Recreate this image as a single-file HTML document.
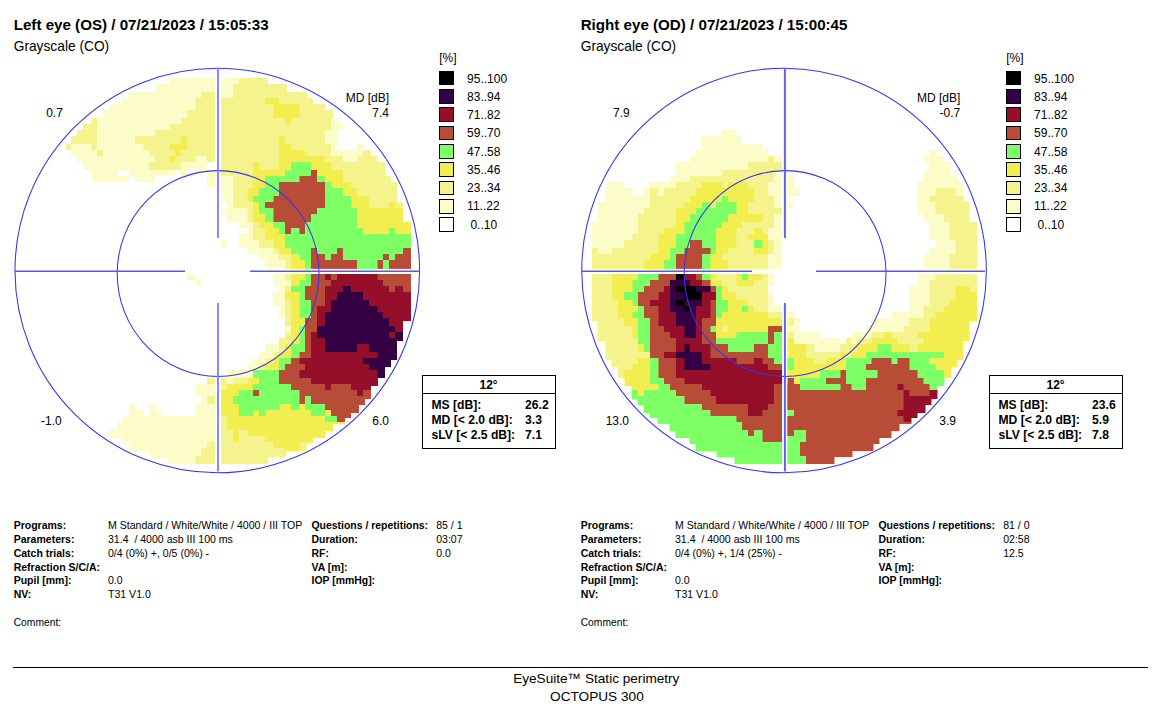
<!DOCTYPE html>
<html lang="en"><head><meta charset="utf-8"><title>EyeSuite Static perimetry</title>
<style>html,body{margin:0;padding:0;background:#fff}body{width:1162px;height:708px;overflow:hidden}svg{display:block}</style></head>
<body>
<svg width="1162" height="708" viewBox="0 0 1162 708" font-family="'Liberation Sans', Arial, sans-serif" fill="#000">
<rect width="1162" height="708" fill="#fff"/>
<clipPath id="m0"><path d="M268 78 L268 84 L287 84 L287 92 L307 92 L307 98 L313 98 L313 104 L325 104 L325 110 L333 110 L333 118 L345 118 L345 124 L351 124 L351 130 L359 130 L359 136 L365 136 L365 144 L371 144 L371 150 L371 150 L371 156 L378 156 L378 162 L385 162 L385 170 L385 170 L385 176 L391 176 L391 182 L397 182 L397 188 L397 188 L397 196 L397 196 L397 202 L403 202 L403 208 L403 208 L403 214 L403 214 L403 222 L411 222 L411 228 L411 228 L411 234 L411 234 L411 240 L411 240 L411 248 L411 248 L411 254 L411 254 L411 260 L411 260 L411 266 L411 266 L411 271 L411 271 L411 321 L403 321 L403 341 L397 341 L397 360 L391 360 L391 367 L385 367 L385 378 L378 378 L378 386 L371 386 L371 399 L365 399 L365 405 L359 405 L359 413 L351 413 L351 418 L345 418 L345 424 L333 424 L333 431 L325 431 L325 438 L313 438 L313 444 L307 444 L307 451 L286 451 L286 457 L268 457 L268 464 L168 464 L168 457 L150 457 L150 451 L129 451 L129 444 L123 444 L123 438 L109 438 L109 431 L103 431 L103 424 L91 424 L91 418 L83 418 L83 413 L77 413 L77 405 L71 405 L71 399 L65 399 L65 386 L58 386 L58 378 L51 378 L51 367 L45 367 L45 360 L39 360 L39 341 L31 341 L31 321 L25 321 L25 271 L25 271 L25 266 L25 266 L25 260 L25 260 L25 254 L25 254 L25 248 L25 248 L25 240 L25 240 L25 234 L25 234 L25 228 L25 228 L25 222 L31 222 L31 214 L31 214 L31 208 L31 208 L31 202 L39 202 L39 196 L39 196 L39 188 L39 188 L39 182 L45 182 L45 176 L51 176 L51 170 L51 170 L51 162 L58 162 L58 156 L65 156 L65 150 L65 150 L65 144 L71 144 L71 136 L77 136 L77 130 L83 130 L83 124 L91 124 L91 118 L103 118 L103 110 L109 110 L109 104 L123 104 L123 98 L129 98 L129 92 L149 92 L149 84 L168 84 L168 78Z"/></clipPath>
<g clip-path="url(#m0)">
<rect x="169.5" y="78" width="70.5" height="6" fill="#fcfcc8"/>
<rect x="239" y="78" width="34.5" height="6" fill="#f5f48c"/>
<rect x="155" y="84" width="79" height="8" fill="#fcfcc8"/>
<rect x="233" y="84" width="58" height="8" fill="#f5f48c"/>
<rect x="129" y="92" width="73" height="6" fill="#fcfcc8"/>
<rect x="201" y="92" width="18" height="6" fill="#f5f48c"/>
<rect x="221" y="92" width="13" height="6" fill="#fcfcc8"/>
<rect x="233" y="92" width="78" height="6" fill="#f5f48c"/>
<rect x="123" y="98" width="73.5" height="6" fill="#fcfcc8"/>
<rect x="195.5" y="98" width="70.5" height="6" fill="#f5f48c"/>
<rect x="265" y="98" width="15" height="6" fill="#f2ee50"/>
<rect x="279" y="98" width="38" height="6" fill="#f5f48c"/>
<rect x="109" y="104" width="87.5" height="6" fill="#fcfcc8"/>
<rect x="195.5" y="104" width="79" height="6" fill="#f5f48c"/>
<rect x="273.5" y="104" width="27" height="6" fill="#f2ee50"/>
<rect x="299.5" y="104" width="25.5" height="6" fill="#f5f48c"/>
<rect x="103" y="110" width="85" height="8" fill="#fcfcc8"/>
<rect x="187" y="110" width="87.5" height="8" fill="#f5f48c"/>
<rect x="273.5" y="110" width="27" height="8" fill="#f2ee50"/>
<rect x="299.5" y="110" width="37.5" height="8" fill="#f5f48c"/>
<rect x="91.5" y="118" width="6.5" height="6" fill="#f5f48c"/>
<rect x="97" y="118" width="85" height="6" fill="#fcfcc8"/>
<rect x="181" y="118" width="105" height="6" fill="#f5f48c"/>
<rect x="285" y="118" width="7" height="6" fill="#f2ee50"/>
<rect x="291" y="118" width="41" height="6" fill="#f5f48c"/>
<rect x="331" y="118" width="6" height="6" fill="#fcfcc8"/>
<rect x="83" y="124" width="15" height="6" fill="#f5f48c"/>
<rect x="97" y="124" width="73.5" height="6" fill="#fcfcc8"/>
<rect x="169.5" y="124" width="162.5" height="6" fill="#f5f48c"/>
<rect x="331" y="124" width="12" height="6" fill="#fcfcc8"/>
<rect x="77" y="130" width="21" height="6" fill="#f5f48c"/>
<rect x="97" y="130" width="59" height="6" fill="#fcfcc8"/>
<rect x="155" y="130" width="171" height="6" fill="#f5f48c"/>
<rect x="325" y="130" width="12" height="6" fill="#fcfcc8"/>
<rect x="71" y="136" width="27" height="8" fill="#f5f48c"/>
<rect x="97" y="136" width="39" height="8" fill="#fcfcc8"/>
<rect x="135" y="136" width="47" height="8" fill="#f5f48c"/>
<rect x="181" y="136" width="7" height="8" fill="#f2ee50"/>
<rect x="187" y="136" width="93" height="8" fill="#f5f48c"/>
<rect x="279" y="136" width="7" height="8" fill="#f2ee50"/>
<rect x="285" y="136" width="41" height="8" fill="#f5f48c"/>
<rect x="325" y="136" width="12" height="8" fill="#fcfcc8"/>
<rect x="65.5" y="144" width="6.5" height="6" fill="#f5f48c"/>
<rect x="71" y="144" width="21.5" height="6" fill="#fcfcc8"/>
<rect x="91.5" y="144" width="6.5" height="6" fill="#f5f48c"/>
<rect x="97" y="144" width="47.5" height="6" fill="#fcfcc8"/>
<rect x="143.5" y="144" width="27" height="6" fill="#f5f48c"/>
<rect x="169.5" y="144" width="18.5" height="6" fill="#f2ee50"/>
<rect x="187" y="144" width="93" height="6" fill="#f5f48c"/>
<rect x="279" y="144" width="13" height="6" fill="#f2ee50"/>
<rect x="291" y="144" width="41" height="6" fill="#f5f48c"/>
<rect x="331" y="144" width="6" height="6" fill="#fcfcc8"/>
<rect x="357" y="144" width="6" height="6" fill="#fcfcc8"/>
<rect x="71" y="150" width="27" height="6" fill="#fcfcc8"/>
<rect x="97" y="150" width="7" height="6" fill="#f5f48c"/>
<rect x="103" y="150" width="47" height="6" fill="#fcfcc8"/>
<rect x="149" y="150" width="27" height="6" fill="#f5f48c"/>
<rect x="175" y="150" width="7" height="6" fill="#f2ee50"/>
<rect x="181" y="150" width="99" height="6" fill="#f5f48c"/>
<rect x="279" y="150" width="27" height="6" fill="#f2ee50"/>
<rect x="305" y="150" width="27" height="6" fill="#f5f48c"/>
<rect x="331" y="150" width="33" height="6" fill="#fcfcc8"/>
<rect x="363" y="150" width="14.5" height="6" fill="#f5f48c"/>
<rect x="77" y="156" width="79" height="6" fill="#fcfcc8"/>
<rect x="155" y="156" width="15.5" height="6" fill="#f5f48c"/>
<rect x="169.5" y="156" width="6.5" height="6" fill="#f2ee50"/>
<rect x="175" y="156" width="21.5" height="6" fill="#f5f48c"/>
<rect x="195.5" y="156" width="12.5" height="6" fill="#fcfcc8"/>
<rect x="207" y="156" width="73" height="6" fill="#f5f48c"/>
<rect x="279" y="156" width="47" height="6" fill="#f2ee50"/>
<rect x="325" y="156" width="19" height="6" fill="#f5f48c"/>
<rect x="343" y="156" width="15" height="6" fill="#fcfcc8"/>
<rect x="357" y="156" width="20.5" height="6" fill="#f5f48c"/>
<rect x="83" y="162" width="67" height="8" fill="#fcfcc8"/>
<rect x="149" y="162" width="33" height="8" fill="#f5f48c"/>
<rect x="181" y="162" width="26" height="8" fill="#fcfcc8"/>
<rect x="221" y="162" width="33" height="8" fill="#f5f48c"/>
<rect x="253" y="162" width="7" height="8" fill="#f2ee50"/>
<rect x="259" y="162" width="21" height="8" fill="#f5f48c"/>
<rect x="279" y="162" width="13" height="8" fill="#f2ee50"/>
<rect x="291" y="162" width="21" height="8" fill="#7dff66"/>
<rect x="311" y="162" width="21" height="8" fill="#f2ee50"/>
<rect x="331" y="162" width="58" height="8" fill="#f5f48c"/>
<rect x="91.5" y="170" width="26" height="6" fill="#fcfcc8"/>
<rect x="129" y="170" width="46" height="6" fill="#fcfcc8"/>
<rect x="181" y="170" width="6" height="6" fill="#fcfcc8"/>
<rect x="207" y="170" width="12" height="6" fill="#fcfcc8"/>
<rect x="221" y="170" width="33" height="6" fill="#f5f48c"/>
<rect x="253" y="170" width="33" height="6" fill="#f2ee50"/>
<rect x="285" y="170" width="27" height="6" fill="#7dff66"/>
<rect x="311" y="170" width="7" height="6" fill="#b84d37"/>
<rect x="317" y="170" width="27" height="6" fill="#f2ee50"/>
<rect x="343" y="170" width="46" height="6" fill="#f5f48c"/>
<rect x="91.5" y="176" width="37.5" height="6" fill="#fcfcc8"/>
<rect x="135" y="176" width="20" height="6" fill="#fcfcc8"/>
<rect x="207" y="176" width="27" height="6" fill="#fcfcc8"/>
<rect x="233" y="176" width="21" height="6" fill="#f5f48c"/>
<rect x="253" y="176" width="13" height="6" fill="#f2ee50"/>
<rect x="265" y="176" width="35.5" height="6" fill="#7dff66"/>
<rect x="299.5" y="176" width="18.5" height="6" fill="#b84d37"/>
<rect x="317" y="176" width="9" height="6" fill="#7dff66"/>
<rect x="325" y="176" width="19" height="6" fill="#f2ee50"/>
<rect x="343" y="176" width="52" height="6" fill="#f5f48c"/>
<rect x="207" y="182" width="27" height="6" fill="#fcfcc8"/>
<rect x="233" y="182" width="21" height="6" fill="#f5f48c"/>
<rect x="253" y="182" width="13" height="6" fill="#f2ee50"/>
<rect x="265" y="182" width="15" height="6" fill="#7dff66"/>
<rect x="279" y="182" width="47" height="6" fill="#b84d37"/>
<rect x="325" y="182" width="7" height="6" fill="#7dff66"/>
<rect x="331" y="182" width="21" height="6" fill="#f2ee50"/>
<rect x="351" y="182" width="52" height="6" fill="#f5f48c"/>
<rect x="221" y="188" width="13" height="8" fill="#fcfcc8"/>
<rect x="233" y="188" width="15.5" height="8" fill="#f5f48c"/>
<rect x="247.5" y="188" width="12.5" height="8" fill="#f2ee50"/>
<rect x="259" y="188" width="21" height="8" fill="#7dff66"/>
<rect x="279" y="188" width="47" height="8" fill="#b84d37"/>
<rect x="325" y="188" width="19" height="8" fill="#7dff66"/>
<rect x="343" y="188" width="15" height="8" fill="#f2ee50"/>
<rect x="357" y="188" width="46" height="8" fill="#f5f48c"/>
<rect x="221" y="196" width="13" height="6" fill="#fcfcc8"/>
<rect x="233" y="196" width="15.5" height="6" fill="#f5f48c"/>
<rect x="247.5" y="196" width="6.5" height="6" fill="#f2ee50"/>
<rect x="253" y="196" width="21.5" height="6" fill="#7dff66"/>
<rect x="273.5" y="196" width="52.5" height="6" fill="#b84d37"/>
<rect x="325" y="196" width="27" height="6" fill="#7dff66"/>
<rect x="351" y="196" width="19" height="6" fill="#f2ee50"/>
<rect x="369" y="196" width="34" height="6" fill="#f5f48c"/>
<rect x="227" y="202" width="7" height="6" fill="#fcfcc8"/>
<rect x="233" y="202" width="21" height="6" fill="#f5f48c"/>
<rect x="253" y="202" width="7" height="6" fill="#f2ee50"/>
<rect x="259" y="202" width="7" height="6" fill="#7dff66"/>
<rect x="265" y="202" width="61" height="6" fill="#b84d37"/>
<rect x="325" y="202" width="27" height="6" fill="#7dff66"/>
<rect x="351" y="202" width="19" height="6" fill="#f2ee50"/>
<rect x="369" y="202" width="21" height="6" fill="#f5f48c"/>
<rect x="389" y="202" width="7" height="6" fill="#f2ee50"/>
<rect x="395" y="202" width="8" height="6" fill="#f5f48c"/>
<rect x="221" y="208" width="27.5" height="6" fill="#fcfcc8"/>
<rect x="247.5" y="208" width="6.5" height="6" fill="#f5f48c"/>
<rect x="253" y="208" width="7" height="6" fill="#f2ee50"/>
<rect x="259" y="208" width="15.5" height="6" fill="#7dff66"/>
<rect x="273.5" y="208" width="44.5" height="6" fill="#b84d37"/>
<rect x="317" y="208" width="41" height="6" fill="#7dff66"/>
<rect x="357" y="208" width="46" height="6" fill="#f2ee50"/>
<rect x="227" y="214" width="21.5" height="8" fill="#fcfcc8"/>
<rect x="247.5" y="214" width="6.5" height="8" fill="#f5f48c"/>
<rect x="253" y="214" width="13" height="8" fill="#f2ee50"/>
<rect x="265" y="214" width="9.5" height="8" fill="#7dff66"/>
<rect x="273.5" y="214" width="38.5" height="8" fill="#b84d37"/>
<rect x="311" y="214" width="47" height="8" fill="#7dff66"/>
<rect x="357" y="214" width="46" height="8" fill="#f2ee50"/>
<rect x="239" y="222" width="15" height="6" fill="#fcfcc8"/>
<rect x="253" y="222" width="7" height="6" fill="#f5f48c"/>
<rect x="259" y="222" width="15.5" height="6" fill="#f2ee50"/>
<rect x="273.5" y="222" width="12.5" height="6" fill="#7dff66"/>
<rect x="285" y="222" width="21" height="6" fill="#b84d37"/>
<rect x="305" y="222" width="53" height="6" fill="#7dff66"/>
<rect x="357" y="222" width="54" height="6" fill="#f2ee50"/>
<rect x="247.5" y="228" width="6.5" height="6" fill="#fcfcc8"/>
<rect x="253" y="228" width="13" height="6" fill="#f5f48c"/>
<rect x="265" y="228" width="15" height="6" fill="#f2ee50"/>
<rect x="279" y="228" width="7" height="6" fill="#7dff66"/>
<rect x="285" y="228" width="7" height="6" fill="#b84d37"/>
<rect x="291" y="228" width="9.5" height="6" fill="#7dff66"/>
<rect x="299.5" y="228" width="6.5" height="6" fill="#b84d37"/>
<rect x="305" y="228" width="59" height="6" fill="#7dff66"/>
<rect x="363" y="228" width="27" height="6" fill="#f2ee50"/>
<rect x="389" y="228" width="7" height="6" fill="#7dff66"/>
<rect x="395" y="228" width="16" height="6" fill="#f2ee50"/>
<rect x="239" y="234" width="15" height="6" fill="#fcfcc8"/>
<rect x="253" y="234" width="13" height="6" fill="#f5f48c"/>
<rect x="265" y="234" width="21" height="6" fill="#f2ee50"/>
<rect x="285" y="234" width="126" height="6" fill="#7dff66"/>
<rect x="221" y="240" width="6" height="8" fill="#fcfcc8"/>
<rect x="239" y="240" width="21" height="8" fill="#fcfcc8"/>
<rect x="259" y="240" width="15.5" height="8" fill="#f5f48c"/>
<rect x="273.5" y="240" width="12.5" height="8" fill="#f2ee50"/>
<rect x="285" y="240" width="126" height="8" fill="#7dff66"/>
<rect x="247.5" y="248" width="27" height="6" fill="#fcfcc8"/>
<rect x="273.5" y="248" width="6.5" height="6" fill="#f5f48c"/>
<rect x="279" y="248" width="13" height="6" fill="#f2ee50"/>
<rect x="291" y="248" width="21" height="6" fill="#7dff66"/>
<rect x="311" y="248" width="7" height="6" fill="#b84d37"/>
<rect x="317" y="248" width="21" height="6" fill="#7dff66"/>
<rect x="337" y="248" width="7" height="6" fill="#b84d37"/>
<rect x="343" y="248" width="61" height="6" fill="#7dff66"/>
<rect x="403" y="248" width="8" height="6" fill="#b84d37"/>
<rect x="259" y="254" width="21" height="6" fill="#fcfcc8"/>
<rect x="279" y="254" width="13" height="6" fill="#f5f48c"/>
<rect x="291" y="254" width="9.5" height="6" fill="#f2ee50"/>
<rect x="299.5" y="254" width="12.5" height="6" fill="#7dff66"/>
<rect x="311" y="254" width="15" height="6" fill="#b84d37"/>
<rect x="325" y="254" width="7" height="6" fill="#7dff66"/>
<rect x="331" y="254" width="13" height="6" fill="#b84d37"/>
<rect x="343" y="254" width="41" height="6" fill="#7dff66"/>
<rect x="383" y="254" width="7" height="6" fill="#b84d37"/>
<rect x="389" y="254" width="7" height="6" fill="#7dff66"/>
<rect x="395" y="254" width="16" height="6" fill="#b84d37"/>
<rect x="265" y="260" width="21" height="6" fill="#fcfcc8"/>
<rect x="285" y="260" width="7" height="6" fill="#f5f48c"/>
<rect x="291" y="260" width="15" height="6" fill="#f2ee50"/>
<rect x="305" y="260" width="7" height="6" fill="#7dff66"/>
<rect x="311" y="260" width="47" height="6" fill="#b84d37"/>
<rect x="357" y="260" width="21.5" height="6" fill="#7dff66"/>
<rect x="377.5" y="260" width="6.5" height="6" fill="#b84d37"/>
<rect x="383" y="260" width="7" height="6" fill="#7dff66"/>
<rect x="389" y="260" width="22" height="6" fill="#b84d37"/>
<rect x="265" y="266" width="21" height="8" fill="#fcfcc8"/>
<rect x="285" y="266" width="7" height="8" fill="#f5f48c"/>
<rect x="291" y="266" width="15" height="8" fill="#f2ee50"/>
<rect x="305" y="266" width="7" height="8" fill="#7dff66"/>
<rect x="311" y="266" width="47" height="8" fill="#b84d37"/>
<rect x="357" y="266" width="21.5" height="8" fill="#7dff66"/>
<rect x="377.5" y="266" width="6.5" height="8" fill="#b84d37"/>
<rect x="383" y="266" width="7" height="8" fill="#7dff66"/>
<rect x="389" y="266" width="22" height="8" fill="#b84d37"/>
<rect x="187" y="274" width="8.5" height="6" fill="#fcfcc8"/>
<rect x="273.5" y="274" width="12.5" height="6" fill="#fcfcc8"/>
<rect x="285" y="274" width="7" height="6" fill="#f5f48c"/>
<rect x="291" y="274" width="15" height="6" fill="#f2ee50"/>
<rect x="305" y="274" width="7" height="6" fill="#7dff66"/>
<rect x="311" y="274" width="15" height="6" fill="#b84d37"/>
<rect x="325" y="274" width="7" height="6" fill="#960f2a"/>
<rect x="331" y="274" width="7" height="6" fill="#b84d37"/>
<rect x="337" y="274" width="41.5" height="6" fill="#960f2a"/>
<rect x="377.5" y="274" width="33.5" height="6" fill="#b84d37"/>
<rect x="195.5" y="280" width="5.5" height="6" fill="#fcfcc8"/>
<rect x="273.5" y="280" width="18.5" height="6" fill="#fcfcc8"/>
<rect x="291" y="280" width="9.5" height="6" fill="#f2ee50"/>
<rect x="299.5" y="280" width="12.5" height="6" fill="#7dff66"/>
<rect x="311" y="280" width="21" height="6" fill="#b84d37"/>
<rect x="331" y="280" width="53" height="6" fill="#960f2a"/>
<rect x="383" y="280" width="28" height="6" fill="#b84d37"/>
<rect x="279" y="286" width="7" height="6" fill="#fcfcc8"/>
<rect x="285" y="286" width="7" height="6" fill="#f5f48c"/>
<rect x="291" y="286" width="15" height="6" fill="#7dff66"/>
<rect x="305" y="286" width="21" height="6" fill="#b84d37"/>
<rect x="325" y="286" width="19" height="6" fill="#960f2a"/>
<rect x="343" y="286" width="9" height="6" fill="#330044"/>
<rect x="351" y="286" width="39" height="6" fill="#960f2a"/>
<rect x="389" y="286" width="7" height="6" fill="#b84d37"/>
<rect x="395" y="286" width="9" height="6" fill="#960f2a"/>
<rect x="403" y="286" width="8" height="6" fill="#b84d37"/>
<rect x="273.5" y="292" width="12.5" height="8" fill="#fcfcc8"/>
<rect x="285" y="292" width="15.5" height="8" fill="#f2ee50"/>
<rect x="299.5" y="292" width="6.5" height="8" fill="#7dff66"/>
<rect x="305" y="292" width="21" height="8" fill="#b84d37"/>
<rect x="325" y="292" width="13" height="8" fill="#960f2a"/>
<rect x="337" y="292" width="27" height="8" fill="#330044"/>
<rect x="363" y="292" width="48" height="8" fill="#960f2a"/>
<rect x="273.5" y="300" width="12.5" height="6" fill="#fcfcc8"/>
<rect x="285" y="300" width="7" height="6" fill="#f5f48c"/>
<rect x="291" y="300" width="9.5" height="6" fill="#f2ee50"/>
<rect x="299.5" y="300" width="12.5" height="6" fill="#7dff66"/>
<rect x="311" y="300" width="15" height="6" fill="#b84d37"/>
<rect x="325" y="300" width="7" height="6" fill="#960f2a"/>
<rect x="331" y="300" width="39" height="6" fill="#330044"/>
<rect x="369" y="300" width="42" height="6" fill="#960f2a"/>
<rect x="279" y="306" width="7" height="6" fill="#fcfcc8"/>
<rect x="285" y="306" width="7" height="6" fill="#f5f48c"/>
<rect x="291" y="306" width="9.5" height="6" fill="#f2ee50"/>
<rect x="299.5" y="306" width="12.5" height="6" fill="#7dff66"/>
<rect x="311" y="306" width="7" height="6" fill="#b84d37"/>
<rect x="317" y="306" width="15" height="6" fill="#960f2a"/>
<rect x="331" y="306" width="47.5" height="6" fill="#330044"/>
<rect x="377.5" y="306" width="33.5" height="6" fill="#960f2a"/>
<rect x="279" y="312" width="7" height="6" fill="#fcfcc8"/>
<rect x="285" y="312" width="7" height="6" fill="#f5f48c"/>
<rect x="291" y="312" width="9.5" height="6" fill="#f2ee50"/>
<rect x="299.5" y="312" width="12.5" height="6" fill="#7dff66"/>
<rect x="311" y="312" width="7" height="6" fill="#b84d37"/>
<rect x="317" y="312" width="9" height="6" fill="#960f2a"/>
<rect x="325" y="312" width="59" height="6" fill="#330044"/>
<rect x="383" y="312" width="28" height="6" fill="#960f2a"/>
<rect x="285" y="318" width="7" height="8" fill="#f5f48c"/>
<rect x="291" y="318" width="15" height="8" fill="#f2ee50"/>
<rect x="305" y="318" width="13" height="8" fill="#b84d37"/>
<rect x="317" y="318" width="9" height="8" fill="#960f2a"/>
<rect x="325" y="318" width="65" height="8" fill="#330044"/>
<rect x="389" y="318" width="22" height="8" fill="#960f2a"/>
<rect x="285" y="326" width="7" height="6" fill="#fcfcc8"/>
<rect x="291" y="326" width="9.5" height="6" fill="#f2ee50"/>
<rect x="299.5" y="326" width="6.5" height="6" fill="#7dff66"/>
<rect x="305" y="326" width="13" height="6" fill="#b84d37"/>
<rect x="317" y="326" width="79" height="6" fill="#330044"/>
<rect x="395" y="326" width="16" height="6" fill="#960f2a"/>
<rect x="285" y="332" width="7" height="6" fill="#f5f48c"/>
<rect x="291" y="332" width="9.5" height="6" fill="#f2ee50"/>
<rect x="299.5" y="332" width="6.5" height="6" fill="#7dff66"/>
<rect x="305" y="332" width="7" height="6" fill="#b84d37"/>
<rect x="311" y="332" width="7" height="6" fill="#960f2a"/>
<rect x="317" y="332" width="73" height="6" fill="#330044"/>
<rect x="389" y="332" width="7" height="6" fill="#960f2a"/>
<rect x="395" y="332" width="16" height="6" fill="#330044"/>
<rect x="279" y="338" width="13" height="6" fill="#f5f48c"/>
<rect x="291" y="338" width="9.5" height="6" fill="#f2ee50"/>
<rect x="299.5" y="338" width="6.5" height="6" fill="#7dff66"/>
<rect x="305" y="338" width="7" height="6" fill="#b84d37"/>
<rect x="311" y="338" width="15" height="6" fill="#960f2a"/>
<rect x="325" y="338" width="86" height="6" fill="#330044"/>
<rect x="265" y="344" width="15" height="8" fill="#fcfcc8"/>
<rect x="279" y="344" width="7" height="8" fill="#f5f48c"/>
<rect x="285" y="344" width="7" height="8" fill="#f2ee50"/>
<rect x="291" y="344" width="15" height="8" fill="#7dff66"/>
<rect x="305" y="344" width="7" height="8" fill="#b84d37"/>
<rect x="311" y="344" width="15" height="8" fill="#960f2a"/>
<rect x="325" y="344" width="33" height="8" fill="#330044"/>
<rect x="357" y="344" width="13" height="8" fill="#960f2a"/>
<rect x="369" y="344" width="42" height="8" fill="#330044"/>
<rect x="259" y="352" width="15.5" height="6" fill="#fcfcc8"/>
<rect x="273.5" y="352" width="6.5" height="6" fill="#f5f48c"/>
<rect x="279" y="352" width="13" height="6" fill="#f2ee50"/>
<rect x="291" y="352" width="9.5" height="6" fill="#7dff66"/>
<rect x="299.5" y="352" width="12.5" height="6" fill="#b84d37"/>
<rect x="311" y="352" width="67.5" height="6" fill="#960f2a"/>
<rect x="377.5" y="352" width="33.5" height="6" fill="#330044"/>
<rect x="253" y="358" width="13" height="6" fill="#fcfcc8"/>
<rect x="265" y="358" width="9.5" height="6" fill="#f5f48c"/>
<rect x="273.5" y="358" width="6.5" height="6" fill="#f2ee50"/>
<rect x="279" y="358" width="13" height="6" fill="#7dff66"/>
<rect x="291" y="358" width="9.5" height="6" fill="#b84d37"/>
<rect x="299.5" y="358" width="64.5" height="6" fill="#960f2a"/>
<rect x="363" y="358" width="48" height="6" fill="#330044"/>
<rect x="247.5" y="364" width="12.5" height="6" fill="#fcfcc8"/>
<rect x="259" y="364" width="7" height="6" fill="#f5f48c"/>
<rect x="265" y="364" width="15" height="6" fill="#f2ee50"/>
<rect x="279" y="364" width="7" height="6" fill="#7dff66"/>
<rect x="285" y="364" width="21" height="6" fill="#b84d37"/>
<rect x="305" y="364" width="65" height="6" fill="#960f2a"/>
<rect x="369" y="364" width="42" height="6" fill="#330044"/>
<rect x="227" y="370" width="27" height="8" fill="#fcfcc8"/>
<rect x="253" y="370" width="27" height="8" fill="#7dff66"/>
<rect x="279" y="370" width="21.5" height="8" fill="#b84d37"/>
<rect x="299.5" y="370" width="79" height="8" fill="#960f2a"/>
<rect x="377.5" y="370" width="33.5" height="8" fill="#330044"/>
<rect x="207" y="378" width="21" height="6" fill="#f5f48c"/>
<rect x="227" y="378" width="7" height="6" fill="#fcfcc8"/>
<rect x="233" y="378" width="15.5" height="6" fill="#f5f48c"/>
<rect x="247.5" y="378" width="12.5" height="6" fill="#f2ee50"/>
<rect x="259" y="378" width="21" height="6" fill="#7dff66"/>
<rect x="279" y="378" width="33" height="6" fill="#b84d37"/>
<rect x="311" y="378" width="100" height="6" fill="#960f2a"/>
<rect x="195.5" y="384" width="23.5" height="6" fill="#fcfcc8"/>
<rect x="221" y="384" width="7" height="6" fill="#f5f48c"/>
<rect x="227" y="384" width="27" height="6" fill="#f2ee50"/>
<rect x="253" y="384" width="39" height="6" fill="#7dff66"/>
<rect x="291" y="384" width="35" height="6" fill="#b84d37"/>
<rect x="325" y="384" width="7" height="6" fill="#960f2a"/>
<rect x="331" y="384" width="21" height="6" fill="#b84d37"/>
<rect x="351" y="384" width="60" height="6" fill="#960f2a"/>
<rect x="195.5" y="390" width="23.5" height="6" fill="#fcfcc8"/>
<rect x="221" y="390" width="19" height="6" fill="#f2ee50"/>
<rect x="239" y="390" width="15" height="6" fill="#7dff66"/>
<rect x="253" y="390" width="7" height="6" fill="#b84d37"/>
<rect x="259" y="390" width="41.5" height="6" fill="#7dff66"/>
<rect x="299.5" y="390" width="58.5" height="6" fill="#b84d37"/>
<rect x="357" y="390" width="7" height="6" fill="#960f2a"/>
<rect x="363" y="390" width="48" height="6" fill="#b84d37"/>
<rect x="201" y="396" width="7" height="8" fill="#fcfcc8"/>
<rect x="207" y="396" width="12" height="8" fill="#f5f48c"/>
<rect x="221" y="396" width="13" height="8" fill="#f2ee50"/>
<rect x="233" y="396" width="67.5" height="8" fill="#7dff66"/>
<rect x="299.5" y="396" width="6.5" height="8" fill="#b84d37"/>
<rect x="305" y="396" width="7" height="8" fill="#7dff66"/>
<rect x="311" y="396" width="92" height="8" fill="#b84d37"/>
<rect x="129" y="404" width="6" height="6" fill="#fcfcc8"/>
<rect x="149" y="404" width="6" height="6" fill="#fcfcc8"/>
<rect x="195.5" y="404" width="23.5" height="6" fill="#fcfcc8"/>
<rect x="221" y="404" width="19" height="6" fill="#f2ee50"/>
<rect x="239" y="404" width="41" height="6" fill="#7dff66"/>
<rect x="279" y="404" width="13" height="6" fill="#f2ee50"/>
<rect x="291" y="404" width="9.5" height="6" fill="#7dff66"/>
<rect x="299.5" y="404" width="6.5" height="6" fill="#f2ee50"/>
<rect x="305" y="404" width="21" height="6" fill="#7dff66"/>
<rect x="325" y="404" width="86" height="6" fill="#b84d37"/>
<rect x="129" y="410" width="14.5" height="6" fill="#fcfcc8"/>
<rect x="149" y="410" width="12" height="6" fill="#fcfcc8"/>
<rect x="195.5" y="410" width="23.5" height="6" fill="#fcfcc8"/>
<rect x="221" y="410" width="19" height="6" fill="#f2ee50"/>
<rect x="239" y="410" width="15" height="6" fill="#7dff66"/>
<rect x="253" y="410" width="7" height="6" fill="#f2ee50"/>
<rect x="259" y="410" width="7" height="6" fill="#7dff66"/>
<rect x="265" y="410" width="47" height="6" fill="#f2ee50"/>
<rect x="311" y="410" width="15" height="6" fill="#7dff66"/>
<rect x="325" y="410" width="7" height="6" fill="#f2ee50"/>
<rect x="331" y="410" width="80" height="6" fill="#b84d37"/>
<rect x="123" y="416" width="96" height="6" fill="#fcfcc8"/>
<rect x="221" y="416" width="7" height="6" fill="#f5f48c"/>
<rect x="227" y="416" width="99" height="6" fill="#f2ee50"/>
<rect x="325" y="416" width="13" height="6" fill="#7dff66"/>
<rect x="337" y="416" width="66" height="6" fill="#b84d37"/>
<rect x="117.5" y="422" width="101.5" height="8" fill="#fcfcc8"/>
<rect x="221" y="422" width="7" height="8" fill="#f5f48c"/>
<rect x="227" y="422" width="150.5" height="8" fill="#f2ee50"/>
<rect x="109" y="430" width="110" height="6" fill="#fcfcc8"/>
<rect x="221" y="430" width="13" height="6" fill="#f5f48c"/>
<rect x="233" y="430" width="7" height="6" fill="#f2ee50"/>
<rect x="239" y="430" width="9.5" height="6" fill="#f5f48c"/>
<rect x="247.5" y="430" width="109.5" height="6" fill="#f2ee50"/>
<rect x="109" y="436" width="110" height="6" fill="#fcfcc8"/>
<rect x="221" y="436" width="13" height="6" fill="#f5f48c"/>
<rect x="233" y="436" width="7" height="6" fill="#f2ee50"/>
<rect x="239" y="436" width="27" height="6" fill="#f5f48c"/>
<rect x="265" y="436" width="78" height="6" fill="#f2ee50"/>
<rect x="109" y="442" width="99" height="6" fill="#fcfcc8"/>
<rect x="207" y="442" width="67.5" height="6" fill="#f5f48c"/>
<rect x="273.5" y="442" width="27" height="6" fill="#f2ee50"/>
<rect x="299.5" y="442" width="25.5" height="6" fill="#f5f48c"/>
<rect x="109" y="448" width="93" height="8" fill="#fcfcc8"/>
<rect x="201" y="448" width="85" height="8" fill="#f5f48c"/>
<rect x="285" y="448" width="15.5" height="8" fill="#f2ee50"/>
<rect x="299.5" y="448" width="25.5" height="8" fill="#f5f48c"/>
<rect x="109" y="456" width="87.5" height="8" fill="#fcfcc8"/>
<rect x="195.5" y="456" width="115.5" height="8" fill="#f5f48c"/>
</g>
<rect x="25" y="268.9" width="386" height="5.1" fill="#fff"/>
<rect x="215" y="78" width="6" height="386" fill="#fff"/>
<circle cx="217.3" cy="270.5" r="202.3" fill="none" stroke="#3535f0" stroke-width="1.05"/>
<ellipse cx="218.1" cy="273.5" rx="100.9" ry="102.9" fill="none" stroke="#3535f0" stroke-width="1.05"/>
<g stroke="#8888ff" stroke-width="2">
<line x1="218" y1="68.5" x2="218" y2="238"/>
<line x1="218" y1="303" x2="218" y2="471.5"/>
</g>
<g stroke="#5555ff" stroke-width="1.5">
<line x1="15" y1="271.3" x2="185" y2="271.3"/>
<line x1="250" y1="271.3" x2="419.6" y2="271.3"/>
</g>
<clipPath id="m567"><path d="M834.5 78 L834.5 84 L853.5 84 L853.5 92 L873.5 92 L873.5 98 L879.5 98 L879.5 104 L891.5 104 L891.5 110 L899.5 110 L899.5 118 L911.5 118 L911.5 124 L917.5 124 L917.5 130 L925.5 130 L925.5 136 L931.5 136 L931.5 144 L937.5 144 L937.5 150 L937.5 150 L937.5 156 L944.5 156 L944.5 162 L951.5 162 L951.5 170 L951.5 170 L951.5 176 L957.5 176 L957.5 182 L963.5 182 L963.5 188 L963.5 188 L963.5 196 L963.5 196 L963.5 202 L969.5 202 L969.5 208 L969.5 208 L969.5 214 L969.5 214 L969.5 222 L977.5 222 L977.5 228 L977.5 228 L977.5 234 L977.5 234 L977.5 240 L977.5 240 L977.5 248 L977.5 248 L977.5 254 L977.5 254 L977.5 260 L977.5 260 L977.5 266 L977.5 266 L977.5 271 L977.5 271 L977.5 321 L969.5 321 L969.5 341 L963.5 341 L963.5 360 L957.5 360 L957.5 367 L951.5 367 L951.5 378 L944.5 378 L944.5 386 L937.5 386 L937.5 399 L931.5 399 L931.5 405 L925.5 405 L925.5 413 L917.5 413 L917.5 418 L911.5 418 L911.5 424 L899.5 424 L899.5 431 L891.5 431 L891.5 438 L879.5 438 L879.5 444 L873.5 444 L873.5 451 L852.5 451 L852.5 457 L834.5 457 L834.5 464 L734.5 464 L734.5 457 L716.5 457 L716.5 451 L695.5 451 L695.5 444 L689.5 444 L689.5 438 L675.5 438 L675.5 431 L669.5 431 L669.5 424 L657.5 424 L657.5 418 L649.5 418 L649.5 413 L643.5 413 L643.5 405 L637.5 405 L637.5 399 L631.5 399 L631.5 386 L624.5 386 L624.5 378 L617.5 378 L617.5 367 L611.5 367 L611.5 360 L605.5 360 L605.5 341 L597.5 341 L597.5 321 L591.5 321 L591.5 271 L591.5 271 L591.5 266 L591.5 266 L591.5 260 L591.5 260 L591.5 254 L591.5 254 L591.5 248 L591.5 248 L591.5 240 L591.5 240 L591.5 234 L591.5 234 L591.5 228 L591.5 228 L591.5 222 L597.5 222 L597.5 214 L597.5 214 L597.5 208 L597.5 208 L597.5 202 L605.5 202 L605.5 196 L605.5 196 L605.5 188 L605.5 188 L605.5 182 L611.5 182 L611.5 176 L617.5 176 L617.5 170 L617.5 170 L617.5 162 L624.5 162 L624.5 156 L631.5 156 L631.5 150 L631.5 150 L631.5 144 L637.5 144 L637.5 136 L643.5 136 L643.5 130 L649.5 130 L649.5 124 L657.5 124 L657.5 118 L669.5 118 L669.5 110 L675.5 110 L675.5 104 L689.5 104 L689.5 98 L695.5 98 L695.5 92 L715.5 92 L715.5 84 L734.5 84 L734.5 78Z"/></clipPath>
<g clip-path="url(#m567)">
<rect x="722" y="130" width="14.5" height="6" fill="#fcfcc8"/>
<rect x="702" y="136" width="40" height="8" fill="#fcfcc8"/>
<rect x="702" y="144" width="60.5" height="6" fill="#fcfcc8"/>
<rect x="696" y="150" width="72" height="6" fill="#fcfcc8"/>
<rect x="929.5" y="150" width="14.5" height="6" fill="#fcfcc8"/>
<rect x="690" y="156" width="79" height="6" fill="#fcfcc8"/>
<rect x="768" y="156" width="7" height="6" fill="#f5f48c"/>
<rect x="774" y="156" width="12" height="6" fill="#fcfcc8"/>
<rect x="923.5" y="156" width="20.5" height="6" fill="#fcfcc8"/>
<rect x="676" y="162" width="73" height="8" fill="#fcfcc8"/>
<rect x="748" y="162" width="38" height="8" fill="#f5f48c"/>
<rect x="929.5" y="162" width="26" height="8" fill="#fcfcc8"/>
<rect x="676" y="170" width="47" height="6" fill="#fcfcc8"/>
<rect x="722" y="170" width="53" height="6" fill="#f5f48c"/>
<rect x="774" y="170" width="12" height="6" fill="#fcfcc8"/>
<rect x="923.5" y="170" width="32" height="6" fill="#fcfcc8"/>
<rect x="670" y="176" width="21" height="6" fill="#fcfcc8"/>
<rect x="690" y="176" width="85" height="6" fill="#f5f48c"/>
<rect x="774" y="176" width="20" height="6" fill="#fcfcc8"/>
<rect x="923.5" y="176" width="38" height="6" fill="#fcfcc8"/>
<rect x="606" y="182" width="18" height="6" fill="#fcfcc8"/>
<rect x="650" y="182" width="27" height="6" fill="#fcfcc8"/>
<rect x="676" y="182" width="27" height="6" fill="#f5f48c"/>
<rect x="702" y="182" width="21" height="6" fill="#f2ee50"/>
<rect x="722" y="182" width="7" height="6" fill="#f5f48c"/>
<rect x="728" y="182" width="21" height="6" fill="#f2ee50"/>
<rect x="748" y="182" width="21" height="6" fill="#f5f48c"/>
<rect x="768" y="182" width="26" height="6" fill="#fcfcc8"/>
<rect x="917.5" y="182" width="52" height="6" fill="#fcfcc8"/>
<rect x="606" y="188" width="26.5" height="8" fill="#fcfcc8"/>
<rect x="644" y="188" width="7" height="8" fill="#fcfcc8"/>
<rect x="650" y="188" width="9.5" height="8" fill="#f5f48c"/>
<rect x="658.5" y="188" width="6.5" height="8" fill="#fcfcc8"/>
<rect x="664" y="188" width="33" height="8" fill="#f5f48c"/>
<rect x="696" y="188" width="59" height="8" fill="#f2ee50"/>
<rect x="754" y="188" width="15" height="8" fill="#f5f48c"/>
<rect x="768" y="188" width="32" height="8" fill="#fcfcc8"/>
<rect x="917.5" y="188" width="19" height="8" fill="#fcfcc8"/>
<rect x="935.5" y="188" width="21" height="8" fill="#f5f48c"/>
<rect x="955.5" y="188" width="14" height="8" fill="#fcfcc8"/>
<rect x="606" y="196" width="45" height="6" fill="#fcfcc8"/>
<rect x="650" y="196" width="41" height="6" fill="#f5f48c"/>
<rect x="690" y="196" width="33" height="6" fill="#f2ee50"/>
<rect x="722" y="196" width="7" height="6" fill="#7dff66"/>
<rect x="728" y="196" width="27" height="6" fill="#f2ee50"/>
<rect x="754" y="196" width="21" height="6" fill="#f5f48c"/>
<rect x="774" y="196" width="12" height="6" fill="#fcfcc8"/>
<rect x="917.5" y="196" width="13" height="6" fill="#fcfcc8"/>
<rect x="929.5" y="196" width="40" height="6" fill="#f5f48c"/>
<rect x="598" y="202" width="53" height="6" fill="#fcfcc8"/>
<rect x="650" y="202" width="35.5" height="6" fill="#f5f48c"/>
<rect x="684.5" y="202" width="18.5" height="6" fill="#f2ee50"/>
<rect x="702" y="202" width="9.5" height="6" fill="#7dff66"/>
<rect x="710.5" y="202" width="6.5" height="6" fill="#f2ee50"/>
<rect x="716" y="202" width="21.5" height="6" fill="#7dff66"/>
<rect x="736.5" y="202" width="12.5" height="6" fill="#f2ee50"/>
<rect x="748" y="202" width="27" height="6" fill="#f5f48c"/>
<rect x="774" y="202" width="20" height="6" fill="#fcfcc8"/>
<rect x="917.5" y="202" width="19" height="6" fill="#fcfcc8"/>
<rect x="935.5" y="202" width="34" height="6" fill="#f5f48c"/>
<rect x="598" y="208" width="47" height="6" fill="#fcfcc8"/>
<rect x="644" y="208" width="33" height="6" fill="#f5f48c"/>
<rect x="676" y="208" width="21" height="6" fill="#f2ee50"/>
<rect x="696" y="208" width="41.5" height="6" fill="#7dff66"/>
<rect x="736.5" y="208" width="12.5" height="6" fill="#f2ee50"/>
<rect x="748" y="208" width="38" height="6" fill="#f5f48c"/>
<rect x="917.5" y="208" width="19" height="6" fill="#fcfcc8"/>
<rect x="935.5" y="208" width="34" height="6" fill="#f5f48c"/>
<rect x="598" y="214" width="41" height="8" fill="#fcfcc8"/>
<rect x="638" y="214" width="39" height="8" fill="#f5f48c"/>
<rect x="676" y="214" width="15" height="8" fill="#f2ee50"/>
<rect x="690" y="214" width="39" height="8" fill="#7dff66"/>
<rect x="728" y="214" width="35.5" height="8" fill="#f2ee50"/>
<rect x="762.5" y="214" width="12.5" height="8" fill="#f5f48c"/>
<rect x="774" y="214" width="12" height="8" fill="#fcfcc8"/>
<rect x="923.5" y="214" width="21.5" height="8" fill="#fcfcc8"/>
<rect x="944" y="214" width="25.5" height="8" fill="#f5f48c"/>
<rect x="592" y="222" width="47" height="6" fill="#fcfcc8"/>
<rect x="638" y="222" width="39" height="6" fill="#f5f48c"/>
<rect x="676" y="222" width="9.5" height="6" fill="#f2ee50"/>
<rect x="684.5" y="222" width="38.5" height="6" fill="#7dff66"/>
<rect x="722" y="222" width="21" height="6" fill="#f2ee50"/>
<rect x="742" y="222" width="33" height="6" fill="#f5f48c"/>
<rect x="774" y="222" width="12" height="6" fill="#fcfcc8"/>
<rect x="929.5" y="222" width="21" height="6" fill="#fcfcc8"/>
<rect x="949.5" y="222" width="28" height="6" fill="#f5f48c"/>
<rect x="592" y="228" width="47" height="6" fill="#fcfcc8"/>
<rect x="638" y="228" width="27" height="6" fill="#f5f48c"/>
<rect x="664" y="228" width="21.5" height="6" fill="#f2ee50"/>
<rect x="684.5" y="228" width="32.5" height="6" fill="#7dff66"/>
<rect x="716" y="228" width="21.5" height="6" fill="#f2ee50"/>
<rect x="736.5" y="228" width="18.5" height="6" fill="#f5f48c"/>
<rect x="754" y="228" width="9.5" height="6" fill="#f2ee50"/>
<rect x="762.5" y="228" width="6.5" height="6" fill="#f5f48c"/>
<rect x="768" y="228" width="18" height="6" fill="#fcfcc8"/>
<rect x="929.5" y="228" width="21" height="6" fill="#fcfcc8"/>
<rect x="949.5" y="228" width="28" height="6" fill="#f5f48c"/>
<rect x="592" y="234" width="41.5" height="6" fill="#fcfcc8"/>
<rect x="632.5" y="234" width="27" height="6" fill="#f5f48c"/>
<rect x="658.5" y="234" width="18.5" height="6" fill="#f2ee50"/>
<rect x="676" y="234" width="41" height="6" fill="#7dff66"/>
<rect x="716" y="234" width="21.5" height="6" fill="#f2ee50"/>
<rect x="736.5" y="234" width="12.5" height="6" fill="#f5f48c"/>
<rect x="748" y="234" width="21" height="6" fill="#f2ee50"/>
<rect x="768" y="234" width="18" height="6" fill="#fcfcc8"/>
<rect x="929.5" y="234" width="21" height="6" fill="#fcfcc8"/>
<rect x="949.5" y="234" width="28" height="6" fill="#f5f48c"/>
<rect x="592" y="240" width="33" height="8" fill="#fcfcc8"/>
<rect x="624" y="240" width="35.5" height="8" fill="#f5f48c"/>
<rect x="658.5" y="240" width="18.5" height="8" fill="#f2ee50"/>
<rect x="676" y="240" width="15" height="8" fill="#7dff66"/>
<rect x="690" y="240" width="13" height="8" fill="#b84d37"/>
<rect x="702" y="240" width="15" height="8" fill="#7dff66"/>
<rect x="716" y="240" width="21.5" height="8" fill="#f2ee50"/>
<rect x="736.5" y="240" width="18.5" height="8" fill="#f5f48c"/>
<rect x="754" y="240" width="9.5" height="8" fill="#7dff66"/>
<rect x="762.5" y="240" width="6.5" height="8" fill="#f2ee50"/>
<rect x="768" y="240" width="7" height="8" fill="#f5f48c"/>
<rect x="774" y="240" width="12" height="8" fill="#fcfcc8"/>
<rect x="935.5" y="240" width="21" height="8" fill="#fcfcc8"/>
<rect x="955.5" y="240" width="22" height="8" fill="#f5f48c"/>
<rect x="592" y="248" width="7" height="6" fill="#f5f48c"/>
<rect x="598" y="248" width="15" height="6" fill="#fcfcc8"/>
<rect x="612" y="248" width="47.5" height="6" fill="#f5f48c"/>
<rect x="658.5" y="248" width="12.5" height="6" fill="#f2ee50"/>
<rect x="670" y="248" width="15.5" height="6" fill="#7dff66"/>
<rect x="684.5" y="248" width="27" height="6" fill="#b84d37"/>
<rect x="710.5" y="248" width="6.5" height="6" fill="#7dff66"/>
<rect x="716" y="248" width="13" height="6" fill="#f2ee50"/>
<rect x="728" y="248" width="27" height="6" fill="#f5f48c"/>
<rect x="754" y="248" width="15" height="6" fill="#f2ee50"/>
<rect x="768" y="248" width="7" height="6" fill="#f5f48c"/>
<rect x="774" y="248" width="12" height="6" fill="#fcfcc8"/>
<rect x="929.5" y="248" width="27" height="6" fill="#fcfcc8"/>
<rect x="955.5" y="248" width="22" height="6" fill="#f5f48c"/>
<rect x="592" y="254" width="59" height="6" fill="#f5f48c"/>
<rect x="650" y="254" width="21" height="6" fill="#f2ee50"/>
<rect x="670" y="254" width="7" height="6" fill="#7dff66"/>
<rect x="676" y="254" width="27" height="6" fill="#b84d37"/>
<rect x="702" y="254" width="9.5" height="6" fill="#7dff66"/>
<rect x="710.5" y="254" width="12.5" height="6" fill="#f2ee50"/>
<rect x="722" y="254" width="47" height="6" fill="#f5f48c"/>
<rect x="768" y="254" width="18" height="6" fill="#fcfcc8"/>
<rect x="923.5" y="254" width="27" height="6" fill="#fcfcc8"/>
<rect x="949.5" y="254" width="28" height="6" fill="#f5f48c"/>
<rect x="592" y="260" width="53" height="6" fill="#f5f48c"/>
<rect x="644" y="260" width="21" height="6" fill="#f2ee50"/>
<rect x="664" y="260" width="13" height="6" fill="#7dff66"/>
<rect x="676" y="260" width="27" height="6" fill="#b84d37"/>
<rect x="702" y="260" width="9.5" height="6" fill="#7dff66"/>
<rect x="710.5" y="260" width="18.5" height="6" fill="#f2ee50"/>
<rect x="728" y="260" width="41" height="6" fill="#f5f48c"/>
<rect x="768" y="260" width="18" height="6" fill="#fcfcc8"/>
<rect x="923.5" y="260" width="27" height="6" fill="#fcfcc8"/>
<rect x="949.5" y="260" width="28" height="6" fill="#f5f48c"/>
<rect x="592" y="266" width="53" height="8" fill="#f5f48c"/>
<rect x="644" y="266" width="21" height="8" fill="#f2ee50"/>
<rect x="664" y="266" width="13" height="8" fill="#7dff66"/>
<rect x="676" y="266" width="27" height="8" fill="#b84d37"/>
<rect x="702" y="266" width="9.5" height="8" fill="#7dff66"/>
<rect x="710.5" y="266" width="18.5" height="8" fill="#f2ee50"/>
<rect x="728" y="266" width="41" height="8" fill="#f5f48c"/>
<rect x="768" y="266" width="18" height="8" fill="#fcfcc8"/>
<rect x="923.5" y="266" width="27" height="8" fill="#fcfcc8"/>
<rect x="949.5" y="266" width="28" height="8" fill="#f5f48c"/>
<rect x="592" y="274" width="21" height="6" fill="#f5f48c"/>
<rect x="612" y="274" width="27" height="6" fill="#f2ee50"/>
<rect x="638" y="274" width="21.5" height="6" fill="#7dff66"/>
<rect x="658.5" y="274" width="18.5" height="6" fill="#b84d37"/>
<rect x="676" y="274" width="9.5" height="6" fill="#000000"/>
<rect x="684.5" y="274" width="12.5" height="6" fill="#960f2a"/>
<rect x="696" y="274" width="7" height="6" fill="#b84d37"/>
<rect x="702" y="274" width="9.5" height="6" fill="#7dff66"/>
<rect x="710.5" y="274" width="6.5" height="6" fill="#f2ee50"/>
<rect x="716" y="274" width="21.5" height="6" fill="#f5f48c"/>
<rect x="736.5" y="274" width="6.5" height="6" fill="#f2ee50"/>
<rect x="742" y="274" width="7" height="6" fill="#7dff66"/>
<rect x="748" y="274" width="15.5" height="6" fill="#f2ee50"/>
<rect x="762.5" y="274" width="6.5" height="6" fill="#f5f48c"/>
<rect x="768" y="274" width="6" height="6" fill="#fcfcc8"/>
<rect x="917.5" y="274" width="19" height="6" fill="#fcfcc8"/>
<rect x="935.5" y="274" width="42" height="6" fill="#f5f48c"/>
<rect x="592" y="280" width="21" height="6" fill="#f5f48c"/>
<rect x="612" y="280" width="21.5" height="6" fill="#f2ee50"/>
<rect x="632.5" y="280" width="18.5" height="6" fill="#7dff66"/>
<rect x="650" y="280" width="21" height="6" fill="#b84d37"/>
<rect x="670" y="280" width="21" height="6" fill="#330044"/>
<rect x="690" y="280" width="13" height="6" fill="#960f2a"/>
<rect x="702" y="280" width="9.5" height="6" fill="#b84d37"/>
<rect x="710.5" y="280" width="12.5" height="6" fill="#f2ee50"/>
<rect x="722" y="280" width="15.5" height="6" fill="#f5f48c"/>
<rect x="736.5" y="280" width="18.5" height="6" fill="#f2ee50"/>
<rect x="754" y="280" width="15" height="6" fill="#f5f48c"/>
<rect x="768" y="280" width="6" height="6" fill="#fcfcc8"/>
<rect x="917.5" y="280" width="13" height="6" fill="#fcfcc8"/>
<rect x="929.5" y="280" width="48" height="6" fill="#f5f48c"/>
<rect x="592" y="286" width="21" height="6" fill="#f5f48c"/>
<rect x="612" y="286" width="21.5" height="6" fill="#f2ee50"/>
<rect x="632.5" y="286" width="12.5" height="6" fill="#7dff66"/>
<rect x="644" y="286" width="21" height="6" fill="#b84d37"/>
<rect x="664" y="286" width="7" height="6" fill="#960f2a"/>
<rect x="670" y="286" width="7" height="6" fill="#330044"/>
<rect x="676" y="286" width="21" height="6" fill="#000000"/>
<rect x="696" y="286" width="15.5" height="6" fill="#330044"/>
<rect x="710.5" y="286" width="6.5" height="6" fill="#b84d37"/>
<rect x="716" y="286" width="7" height="6" fill="#7dff66"/>
<rect x="722" y="286" width="7" height="6" fill="#f2ee50"/>
<rect x="728" y="286" width="40" height="6" fill="#f5f48c"/>
<rect x="909.5" y="286" width="21" height="6" fill="#fcfcc8"/>
<rect x="929.5" y="286" width="27" height="6" fill="#f5f48c"/>
<rect x="955.5" y="286" width="15" height="6" fill="#f2ee50"/>
<rect x="969.5" y="286" width="8" height="6" fill="#f5f48c"/>
<rect x="592" y="292" width="21" height="8" fill="#f5f48c"/>
<rect x="612" y="292" width="13" height="8" fill="#f2ee50"/>
<rect x="624" y="292" width="15" height="8" fill="#7dff66"/>
<rect x="638" y="292" width="21.5" height="8" fill="#b84d37"/>
<rect x="658.5" y="292" width="12.5" height="8" fill="#960f2a"/>
<rect x="670" y="292" width="15.5" height="8" fill="#330044"/>
<rect x="684.5" y="292" width="18.5" height="8" fill="#000000"/>
<rect x="702" y="292" width="15" height="8" fill="#960f2a"/>
<rect x="716" y="292" width="7" height="8" fill="#7dff66"/>
<rect x="722" y="292" width="15.5" height="8" fill="#f2ee50"/>
<rect x="736.5" y="292" width="32.5" height="8" fill="#f5f48c"/>
<rect x="768" y="292" width="6" height="8" fill="#fcfcc8"/>
<rect x="909.5" y="292" width="21" height="8" fill="#fcfcc8"/>
<rect x="929.5" y="292" width="27" height="8" fill="#f5f48c"/>
<rect x="955.5" y="292" width="22" height="8" fill="#f2ee50"/>
<rect x="592" y="300" width="27" height="6" fill="#f5f48c"/>
<rect x="618" y="300" width="15.5" height="6" fill="#f2ee50"/>
<rect x="632.5" y="300" width="6.5" height="6" fill="#7dff66"/>
<rect x="638" y="300" width="13" height="6" fill="#b84d37"/>
<rect x="650" y="300" width="21" height="6" fill="#960f2a"/>
<rect x="670" y="300" width="7" height="6" fill="#330044"/>
<rect x="676" y="300" width="9.5" height="6" fill="#000000"/>
<rect x="684.5" y="300" width="18.5" height="6" fill="#330044"/>
<rect x="702" y="300" width="9.5" height="6" fill="#960f2a"/>
<rect x="710.5" y="300" width="6.5" height="6" fill="#b84d37"/>
<rect x="716" y="300" width="13" height="6" fill="#7dff66"/>
<rect x="728" y="300" width="21" height="6" fill="#f2ee50"/>
<rect x="748" y="300" width="21" height="6" fill="#f5f48c"/>
<rect x="768" y="300" width="6" height="6" fill="#fcfcc8"/>
<rect x="909.5" y="300" width="21" height="6" fill="#fcfcc8"/>
<rect x="929.5" y="300" width="21" height="6" fill="#f5f48c"/>
<rect x="949.5" y="300" width="28" height="6" fill="#f2ee50"/>
<rect x="592" y="306" width="27" height="6" fill="#f5f48c"/>
<rect x="618" y="306" width="21" height="6" fill="#f2ee50"/>
<rect x="638" y="306" width="7" height="6" fill="#7dff66"/>
<rect x="644" y="306" width="15.5" height="6" fill="#b84d37"/>
<rect x="658.5" y="306" width="12.5" height="6" fill="#960f2a"/>
<rect x="670" y="306" width="15.5" height="6" fill="#330044"/>
<rect x="684.5" y="306" width="6.5" height="6" fill="#000000"/>
<rect x="690" y="306" width="7" height="6" fill="#330044"/>
<rect x="696" y="306" width="15.5" height="6" fill="#960f2a"/>
<rect x="710.5" y="306" width="6.5" height="6" fill="#b84d37"/>
<rect x="716" y="306" width="13" height="6" fill="#7dff66"/>
<rect x="728" y="306" width="15" height="6" fill="#f2ee50"/>
<rect x="742" y="306" width="7" height="6" fill="#7dff66"/>
<rect x="748" y="306" width="7" height="6" fill="#f2ee50"/>
<rect x="754" y="306" width="15" height="6" fill="#f5f48c"/>
<rect x="768" y="306" width="18" height="6" fill="#fcfcc8"/>
<rect x="909.5" y="306" width="15" height="6" fill="#fcfcc8"/>
<rect x="923.5" y="306" width="21.5" height="6" fill="#f5f48c"/>
<rect x="944" y="306" width="33.5" height="6" fill="#f2ee50"/>
<rect x="592" y="312" width="27" height="6" fill="#f5f48c"/>
<rect x="618" y="312" width="15.5" height="6" fill="#f2ee50"/>
<rect x="632.5" y="312" width="12.5" height="6" fill="#7dff66"/>
<rect x="644" y="312" width="15.5" height="6" fill="#b84d37"/>
<rect x="658.5" y="312" width="18.5" height="6" fill="#960f2a"/>
<rect x="676" y="312" width="21" height="6" fill="#330044"/>
<rect x="696" y="312" width="15.5" height="6" fill="#960f2a"/>
<rect x="710.5" y="312" width="6.5" height="6" fill="#b84d37"/>
<rect x="716" y="312" width="7" height="6" fill="#7dff66"/>
<rect x="722" y="312" width="47" height="6" fill="#f2ee50"/>
<rect x="768" y="312" width="18" height="6" fill="#f5f48c"/>
<rect x="787.3" y="312" width="6.7" height="6" fill="#fcfcc8"/>
<rect x="891.5" y="312" width="33" height="6" fill="#fcfcc8"/>
<rect x="923.5" y="312" width="13" height="6" fill="#f5f48c"/>
<rect x="935.5" y="312" width="42" height="6" fill="#f2ee50"/>
<rect x="592" y="318" width="33" height="8" fill="#f5f48c"/>
<rect x="624" y="318" width="15" height="8" fill="#f2ee50"/>
<rect x="638" y="318" width="13" height="8" fill="#7dff66"/>
<rect x="650" y="318" width="9.5" height="8" fill="#b84d37"/>
<rect x="658.5" y="318" width="18.5" height="8" fill="#960f2a"/>
<rect x="676" y="318" width="21" height="8" fill="#330044"/>
<rect x="696" y="318" width="7" height="8" fill="#960f2a"/>
<rect x="702" y="318" width="15" height="8" fill="#b84d37"/>
<rect x="716" y="318" width="70" height="8" fill="#f2ee50"/>
<rect x="787.3" y="318" width="7.7" height="8" fill="#f5f48c"/>
<rect x="794" y="318" width="6" height="8" fill="#fcfcc8"/>
<rect x="871.5" y="318" width="39" height="8" fill="#fcfcc8"/>
<rect x="909.5" y="318" width="21" height="8" fill="#f5f48c"/>
<rect x="929.5" y="318" width="48" height="8" fill="#f2ee50"/>
<rect x="592" y="326" width="41.5" height="6" fill="#f5f48c"/>
<rect x="632.5" y="326" width="6.5" height="6" fill="#f2ee50"/>
<rect x="638" y="326" width="13" height="6" fill="#7dff66"/>
<rect x="650" y="326" width="15" height="6" fill="#b84d37"/>
<rect x="664" y="326" width="21.5" height="6" fill="#960f2a"/>
<rect x="684.5" y="326" width="12.5" height="6" fill="#330044"/>
<rect x="696" y="326" width="7" height="6" fill="#960f2a"/>
<rect x="702" y="326" width="9.5" height="6" fill="#b84d37"/>
<rect x="710.5" y="326" width="6.5" height="6" fill="#7dff66"/>
<rect x="716" y="326" width="7" height="6" fill="#f2ee50"/>
<rect x="722" y="326" width="7" height="6" fill="#f5f48c"/>
<rect x="728" y="326" width="41" height="6" fill="#f2ee50"/>
<rect x="768" y="326" width="18" height="6" fill="#b84d37"/>
<rect x="787.3" y="326" width="12.7" height="6" fill="#fcfcc8"/>
<rect x="866" y="326" width="38.5" height="6" fill="#fcfcc8"/>
<rect x="903.5" y="326" width="27" height="6" fill="#f5f48c"/>
<rect x="929.5" y="326" width="48" height="6" fill="#f2ee50"/>
<rect x="592" y="332" width="41.5" height="6" fill="#f5f48c"/>
<rect x="632.5" y="332" width="6.5" height="6" fill="#f2ee50"/>
<rect x="638" y="332" width="13" height="6" fill="#7dff66"/>
<rect x="650" y="332" width="21" height="6" fill="#b84d37"/>
<rect x="670" y="332" width="15.5" height="6" fill="#960f2a"/>
<rect x="684.5" y="332" width="12.5" height="6" fill="#330044"/>
<rect x="696" y="332" width="7" height="6" fill="#960f2a"/>
<rect x="702" y="332" width="15" height="6" fill="#b84d37"/>
<rect x="716" y="332" width="21.5" height="6" fill="#f2ee50"/>
<rect x="736.5" y="332" width="32.5" height="6" fill="#7dff66"/>
<rect x="768" y="332" width="7" height="6" fill="#b84d37"/>
<rect x="774" y="332" width="12" height="6" fill="#7dff66"/>
<rect x="787.3" y="332" width="7.7" height="6" fill="#f5f48c"/>
<rect x="794" y="332" width="26" height="6" fill="#fcfcc8"/>
<rect x="851.5" y="332" width="21" height="6" fill="#fcfcc8"/>
<rect x="871.5" y="332" width="13" height="6" fill="#f5f48c"/>
<rect x="883.5" y="332" width="9" height="6" fill="#f2ee50"/>
<rect x="891.5" y="332" width="27" height="6" fill="#f5f48c"/>
<rect x="917.5" y="332" width="60" height="6" fill="#f2ee50"/>
<rect x="592" y="338" width="47" height="6" fill="#f5f48c"/>
<rect x="638" y="338" width="13" height="6" fill="#7dff66"/>
<rect x="650" y="338" width="27" height="6" fill="#b84d37"/>
<rect x="676" y="338" width="27" height="6" fill="#960f2a"/>
<rect x="702" y="338" width="15" height="6" fill="#b84d37"/>
<rect x="716" y="338" width="53" height="6" fill="#7dff66"/>
<rect x="768" y="338" width="7" height="6" fill="#b84d37"/>
<rect x="774" y="338" width="12" height="6" fill="#7dff66"/>
<rect x="787.3" y="338" width="7.7" height="6" fill="#f2ee50"/>
<rect x="794" y="338" width="46.5" height="6" fill="#fcfcc8"/>
<rect x="846" y="338" width="6.5" height="6" fill="#f5f48c"/>
<rect x="851.5" y="338" width="7" height="6" fill="#fcfcc8"/>
<rect x="857.5" y="338" width="15" height="6" fill="#f5f48c"/>
<rect x="871.5" y="338" width="27" height="6" fill="#f2ee50"/>
<rect x="897.5" y="338" width="27" height="6" fill="#f5f48c"/>
<rect x="923.5" y="338" width="54" height="6" fill="#f2ee50"/>
<rect x="592" y="344" width="47" height="8" fill="#f5f48c"/>
<rect x="638" y="344" width="7" height="8" fill="#f2ee50"/>
<rect x="644" y="344" width="7" height="8" fill="#7dff66"/>
<rect x="650" y="344" width="27" height="8" fill="#b84d37"/>
<rect x="676" y="344" width="9.5" height="8" fill="#960f2a"/>
<rect x="684.5" y="344" width="6.5" height="8" fill="#330044"/>
<rect x="690" y="344" width="21.5" height="8" fill="#960f2a"/>
<rect x="710.5" y="344" width="18.5" height="8" fill="#b84d37"/>
<rect x="728" y="344" width="27" height="8" fill="#7dff66"/>
<rect x="754" y="344" width="15" height="8" fill="#b84d37"/>
<rect x="768" y="344" width="18" height="8" fill="#7dff66"/>
<rect x="787.3" y="344" width="19.7" height="8" fill="#f2ee50"/>
<rect x="806" y="344" width="9.5" height="8" fill="#f5f48c"/>
<rect x="814.5" y="344" width="27" height="8" fill="#fcfcc8"/>
<rect x="840.5" y="344" width="18" height="8" fill="#f5f48c"/>
<rect x="857.5" y="344" width="21" height="8" fill="#f2ee50"/>
<rect x="877.5" y="344" width="15" height="8" fill="#7dff66"/>
<rect x="891.5" y="344" width="19" height="8" fill="#f2ee50"/>
<rect x="909.5" y="344" width="9" height="8" fill="#f5f48c"/>
<rect x="917.5" y="344" width="60" height="8" fill="#f2ee50"/>
<rect x="592" y="352" width="59" height="6" fill="#f5f48c"/>
<rect x="650" y="352" width="15" height="6" fill="#b84d37"/>
<rect x="664" y="352" width="13" height="6" fill="#960f2a"/>
<rect x="676" y="352" width="27" height="6" fill="#330044"/>
<rect x="702" y="352" width="9.5" height="6" fill="#960f2a"/>
<rect x="710.5" y="352" width="58.5" height="6" fill="#b84d37"/>
<rect x="768" y="352" width="18" height="6" fill="#7dff66"/>
<rect x="787.3" y="352" width="19.7" height="6" fill="#f2ee50"/>
<rect x="806" y="352" width="35.5" height="6" fill="#f5f48c"/>
<rect x="840.5" y="352" width="6.5" height="6" fill="#f2ee50"/>
<rect x="846" y="352" width="6.5" height="6" fill="#f5f48c"/>
<rect x="851.5" y="352" width="15.5" height="6" fill="#f2ee50"/>
<rect x="866" y="352" width="79" height="6" fill="#7dff66"/>
<rect x="944" y="352" width="33.5" height="6" fill="#f2ee50"/>
<rect x="592" y="358" width="47" height="6" fill="#f5f48c"/>
<rect x="638" y="358" width="13" height="6" fill="#f2ee50"/>
<rect x="650" y="358" width="9.5" height="6" fill="#7dff66"/>
<rect x="658.5" y="358" width="18.5" height="6" fill="#b84d37"/>
<rect x="676" y="358" width="9.5" height="6" fill="#960f2a"/>
<rect x="684.5" y="358" width="18.5" height="6" fill="#330044"/>
<rect x="702" y="358" width="35.5" height="6" fill="#960f2a"/>
<rect x="736.5" y="358" width="18.5" height="6" fill="#b84d37"/>
<rect x="754" y="358" width="9.5" height="6" fill="#960f2a"/>
<rect x="762.5" y="358" width="12.5" height="6" fill="#b84d37"/>
<rect x="774" y="358" width="21" height="6" fill="#7dff66"/>
<rect x="794" y="358" width="21.5" height="6" fill="#f2ee50"/>
<rect x="814.5" y="358" width="12.5" height="6" fill="#f5f48c"/>
<rect x="826" y="358" width="21" height="6" fill="#f2ee50"/>
<rect x="846" y="358" width="26.5" height="6" fill="#7dff66"/>
<rect x="871.5" y="358" width="21" height="6" fill="#b84d37"/>
<rect x="891.5" y="358" width="7" height="6" fill="#7dff66"/>
<rect x="897.5" y="358" width="13" height="6" fill="#b84d37"/>
<rect x="909.5" y="358" width="21" height="6" fill="#7dff66"/>
<rect x="929.5" y="358" width="48" height="6" fill="#f2ee50"/>
<rect x="592" y="364" width="41.5" height="6" fill="#f5f48c"/>
<rect x="632.5" y="364" width="18.5" height="6" fill="#f2ee50"/>
<rect x="650" y="364" width="9.5" height="6" fill="#7dff66"/>
<rect x="658.5" y="364" width="18.5" height="6" fill="#b84d37"/>
<rect x="676" y="364" width="9.5" height="6" fill="#960f2a"/>
<rect x="684.5" y="364" width="27" height="6" fill="#330044"/>
<rect x="710.5" y="364" width="58.5" height="6" fill="#960f2a"/>
<rect x="768" y="364" width="18" height="6" fill="#b84d37"/>
<rect x="787.3" y="364" width="7.7" height="6" fill="#7dff66"/>
<rect x="794" y="364" width="53" height="6" fill="#f2ee50"/>
<rect x="846" y="364" width="21" height="6" fill="#7dff66"/>
<rect x="866" y="364" width="44.5" height="6" fill="#b84d37"/>
<rect x="909.5" y="364" width="27" height="6" fill="#7dff66"/>
<rect x="935.5" y="364" width="42" height="6" fill="#f2ee50"/>
<rect x="592" y="370" width="33" height="8" fill="#f5f48c"/>
<rect x="624" y="370" width="27" height="8" fill="#f2ee50"/>
<rect x="650" y="370" width="9.5" height="8" fill="#7dff66"/>
<rect x="658.5" y="370" width="18.5" height="8" fill="#b84d37"/>
<rect x="676" y="370" width="110" height="8" fill="#960f2a"/>
<rect x="787.3" y="370" width="33.7" height="8" fill="#f2ee50"/>
<rect x="820" y="370" width="21.5" height="8" fill="#7dff66"/>
<rect x="840.5" y="370" width="6.5" height="8" fill="#b84d37"/>
<rect x="846" y="370" width="32.5" height="8" fill="#7dff66"/>
<rect x="877.5" y="370" width="41" height="8" fill="#b84d37"/>
<rect x="917.5" y="370" width="27.5" height="8" fill="#7dff66"/>
<rect x="944" y="370" width="33.5" height="8" fill="#f2ee50"/>
<rect x="592" y="378" width="59" height="6" fill="#f2ee50"/>
<rect x="650" y="378" width="15" height="6" fill="#7dff66"/>
<rect x="664" y="378" width="21.5" height="6" fill="#b84d37"/>
<rect x="684.5" y="378" width="101.5" height="6" fill="#960f2a"/>
<rect x="787.3" y="378" width="7.7" height="6" fill="#b84d37"/>
<rect x="794" y="378" width="7" height="6" fill="#f2ee50"/>
<rect x="800" y="378" width="27" height="6" fill="#7dff66"/>
<rect x="826" y="378" width="21" height="6" fill="#b84d37"/>
<rect x="846" y="378" width="21" height="6" fill="#7dff66"/>
<rect x="866" y="378" width="58.5" height="6" fill="#b84d37"/>
<rect x="923.5" y="378" width="54" height="6" fill="#7dff66"/>
<rect x="592" y="384" width="67.5" height="6" fill="#f2ee50"/>
<rect x="658.5" y="384" width="12.5" height="6" fill="#7dff66"/>
<rect x="670" y="384" width="33" height="6" fill="#b84d37"/>
<rect x="702" y="384" width="73" height="6" fill="#960f2a"/>
<rect x="774" y="384" width="27" height="6" fill="#b84d37"/>
<rect x="800" y="384" width="41.5" height="6" fill="#7dff66"/>
<rect x="840.5" y="384" width="12" height="6" fill="#b84d37"/>
<rect x="851.5" y="384" width="15.5" height="6" fill="#7dff66"/>
<rect x="866" y="384" width="32.5" height="6" fill="#b84d37"/>
<rect x="897.5" y="384" width="7" height="6" fill="#960f2a"/>
<rect x="903.5" y="384" width="27" height="6" fill="#b84d37"/>
<rect x="929.5" y="384" width="48" height="6" fill="#7dff66"/>
<rect x="592" y="390" width="47" height="6" fill="#7dff66"/>
<rect x="638" y="390" width="7" height="6" fill="#f2ee50"/>
<rect x="644" y="390" width="33" height="6" fill="#7dff66"/>
<rect x="676" y="390" width="35.5" height="6" fill="#b84d37"/>
<rect x="710.5" y="390" width="64.5" height="6" fill="#960f2a"/>
<rect x="774" y="390" width="130.5" height="6" fill="#b84d37"/>
<rect x="903.5" y="390" width="7" height="6" fill="#960f2a"/>
<rect x="909.5" y="390" width="21" height="6" fill="#b84d37"/>
<rect x="929.5" y="390" width="48" height="6" fill="#960f2a"/>
<rect x="592" y="396" width="93.5" height="8" fill="#7dff66"/>
<rect x="684.5" y="396" width="32.5" height="8" fill="#b84d37"/>
<rect x="716" y="396" width="59" height="8" fill="#960f2a"/>
<rect x="774" y="396" width="130.5" height="8" fill="#b84d37"/>
<rect x="903.5" y="396" width="74" height="8" fill="#960f2a"/>
<rect x="592" y="404" width="111" height="6" fill="#7dff66"/>
<rect x="702" y="404" width="47" height="6" fill="#b84d37"/>
<rect x="748" y="404" width="21" height="6" fill="#960f2a"/>
<rect x="768" y="404" width="136.5" height="6" fill="#b84d37"/>
<rect x="903.5" y="404" width="74" height="6" fill="#960f2a"/>
<rect x="592" y="410" width="119.5" height="6" fill="#7dff66"/>
<rect x="710.5" y="410" width="38.5" height="6" fill="#b84d37"/>
<rect x="748" y="410" width="15.5" height="6" fill="#960f2a"/>
<rect x="762.5" y="410" width="23.5" height="6" fill="#b84d37"/>
<rect x="787.3" y="410" width="7.7" height="6" fill="#7dff66"/>
<rect x="794" y="410" width="104.5" height="6" fill="#b84d37"/>
<rect x="897.5" y="410" width="80" height="6" fill="#960f2a"/>
<rect x="592" y="416" width="145.5" height="6" fill="#7dff66"/>
<rect x="736.5" y="416" width="168" height="6" fill="#b84d37"/>
<rect x="903.5" y="416" width="74" height="6" fill="#960f2a"/>
<rect x="592" y="422" width="151" height="8" fill="#7dff66"/>
<rect x="742" y="422" width="235.5" height="8" fill="#b84d37"/>
<rect x="592" y="430" width="157" height="6" fill="#7dff66"/>
<rect x="748" y="430" width="7" height="6" fill="#b84d37"/>
<rect x="754" y="430" width="9.5" height="6" fill="#7dff66"/>
<rect x="762.5" y="430" width="32.5" height="6" fill="#b84d37"/>
<rect x="794" y="430" width="13" height="6" fill="#7dff66"/>
<rect x="806" y="430" width="171.5" height="6" fill="#b84d37"/>
<rect x="592" y="436" width="171.5" height="6" fill="#7dff66"/>
<rect x="762.5" y="436" width="23.5" height="6" fill="#b84d37"/>
<rect x="787.3" y="436" width="19.7" height="6" fill="#7dff66"/>
<rect x="806" y="436" width="171.5" height="6" fill="#b84d37"/>
<rect x="592" y="442" width="209" height="6" fill="#7dff66"/>
<rect x="800" y="442" width="177.5" height="6" fill="#b84d37"/>
<rect x="592" y="448" width="209" height="8" fill="#7dff66"/>
<rect x="800" y="448" width="177.5" height="8" fill="#b84d37"/>
<rect x="592" y="456" width="215" height="8" fill="#7dff66"/>
<rect x="806" y="456" width="171.5" height="8" fill="#b84d37"/>
</g>
<rect x="591.5" y="268.9" width="386" height="5.1" fill="#fff"/>
<rect x="782" y="78" width="5.3" height="386" fill="#fff"/>
<circle cx="784.05" cy="270.5" r="202.3" fill="none" stroke="#3535f0" stroke-width="1.05"/>
<ellipse cx="785.1" cy="273.5" rx="100.9" ry="102.9" fill="none" stroke="#3535f0" stroke-width="1.05"/>
<g stroke="#6060ff" stroke-width="2">
<line x1="784.9" y1="68.5" x2="784.9" y2="238"/>
<line x1="784.9" y1="303" x2="784.9" y2="471.5"/>
</g>
<g stroke="#5555ff" stroke-width="1.5">
<line x1="582" y1="271.3" x2="752" y2="271.3"/>
<line x1="816" y1="271.3" x2="985" y2="271.3"/>
</g>
<text x="13.7" y="30" font-size="15.15" font-weight="bold" text-anchor="start" >Left eye (OS) / 07/21/2023 / 15:05:33</text>
<text x="13.7" y="51.2" font-size="13.75" font-weight="normal" text-anchor="start" >Grayscale (CO)</text>
<text x="439.2" y="61.7" font-size="12" font-weight="normal" text-anchor="start" >[%]</text>
<rect x="439.5" y="71.5" width="14" height="13" fill="#000000" stroke="#000" stroke-width="1"/>
<text x="467.1" y="82.60" font-size="12" xml:space="preserve" style="white-space:pre">95..100</text>
<rect x="439.5" y="89.5" width="14" height="14" fill="#330044" stroke="#000" stroke-width="1"/>
<text x="467.1" y="100.85" font-size="12" xml:space="preserve" style="white-space:pre">83..94</text>
<rect x="439.5" y="107.5" width="14" height="14" fill="#960f2a" stroke="#000" stroke-width="1"/>
<text x="467.1" y="119.10" font-size="12" xml:space="preserve" style="white-space:pre">71..82</text>
<rect x="439.5" y="126.5" width="14" height="13" fill="#b84d37" stroke="#000" stroke-width="1"/>
<text x="467.1" y="137.35" font-size="12" xml:space="preserve" style="white-space:pre">59..70</text>
<rect x="439.5" y="144.5" width="14" height="14" fill="#7dff66" stroke="#000" stroke-width="1"/>
<text x="467.1" y="155.60" font-size="12" xml:space="preserve" style="white-space:pre">47..58</text>
<rect x="439.5" y="162.5" width="14" height="14" fill="#f2ee50" stroke="#000" stroke-width="1"/>
<text x="467.1" y="173.85" font-size="12" xml:space="preserve" style="white-space:pre">35..46</text>
<rect x="439.5" y="181.5" width="14" height="13" fill="#f5f48c" stroke="#000" stroke-width="1"/>
<text x="467.1" y="192.10" font-size="12" xml:space="preserve" style="white-space:pre">23..34</text>
<rect x="439.5" y="199.5" width="14" height="14" fill="#fcfcc8" stroke="#000" stroke-width="1"/>
<text x="467.1" y="210.35" font-size="12" xml:space="preserve" style="white-space:pre">11..22</text>
<rect x="439.5" y="217.5" width="14" height="14" fill="#ffffff" stroke="#000" stroke-width="1"/>
<text x="467.1" y="228.60" font-size="12" xml:space="preserve" style="white-space:pre"> 0..10</text>
<text x="46.2" y="116.7" font-size="12" font-weight="normal" text-anchor="start" >0.7</text>
<text x="389" y="101.7" font-size="12" font-weight="normal" text-anchor="end" >MD [dB]</text>
<text x="389" y="116.9" font-size="12" font-weight="normal" text-anchor="end" >7.4</text>
<text x="41.1" y="425" font-size="12" font-weight="normal" text-anchor="start" >-1.0</text>
<text x="389" y="425" font-size="12" font-weight="normal" text-anchor="end" >6.0</text>
<rect x="422.5" y="375.5" width="133" height="73" fill="#fff" stroke="#000" stroke-width="1"/>
<line x1="422.5" y1="393.5" x2="555.5" y2="393.5" stroke="#000" stroke-width="1"/>
<text x="488.6" y="388.6" font-size="12" font-weight="bold" text-anchor="middle" >12°</text>
<text x="431.4" y="408.6" font-size="12.15" font-weight="bold" text-anchor="start" >MS [dB]:</text>
<text x="525" y="408.6" font-size="12.15" font-weight="bold" text-anchor="start" >26.2</text>
<text x="431.4" y="423.6" font-size="12.15" font-weight="bold" text-anchor="start" >MD [&lt; 2.0 dB]:</text>
<text x="525" y="423.6" font-size="12.15" font-weight="bold" text-anchor="start" >3.3</text>
<text x="431.4" y="438.6" font-size="12.15" font-weight="bold" text-anchor="start" >sLV [&lt; 2.5 dB]:</text>
<text x="525" y="438.6" font-size="12.15" font-weight="bold" text-anchor="start" >7.1</text>
<text x="13.7" y="529.3" font-size="10.5" font-weight="bold" text-anchor="start" >Programs:</text>
<text x="108" y="529.3" font-size="10.55" xml:space="preserve" style="white-space:pre">M Standard / White/White / 4000 / III TOP</text>
<text x="13.7" y="543.25" font-size="10.5" font-weight="bold" text-anchor="start" >Parameters:</text>
<text x="108" y="543.25" font-size="10.55" xml:space="preserve" style="white-space:pre">31.4  / 4000 asb III 100 ms</text>
<text x="13.7" y="557.1" font-size="10.5" font-weight="bold" text-anchor="start" >Catch trials:</text>
<text x="108" y="557.1" font-size="10.55" xml:space="preserve" style="white-space:pre">0/4 (0%) +, 0/5 (0%) -</text>
<text x="13.7" y="570.9" font-size="10.5" font-weight="bold" text-anchor="start" >Refraction S/C/A:</text>
<text x="13.7" y="584.4" font-size="10.5" font-weight="bold" text-anchor="start" >Pupil [mm]:</text>
<text x="108" y="584.4" font-size="10.55" xml:space="preserve" style="white-space:pre">0.0</text>
<text x="13.7" y="598.2" font-size="10.5" font-weight="bold" text-anchor="start" >NV:</text>
<text x="108" y="598.2" font-size="10.55" xml:space="preserve" style="white-space:pre">T31 V1.0</text>
<text x="311.5" y="529.3" font-size="10.45" font-weight="bold" text-anchor="start" >Questions / repetitions:</text>
<text x="436.2" y="529.3" font-size="10.55" font-weight="normal" text-anchor="start" >85 / 1</text>
<text x="311.5" y="543.25" font-size="10.45" font-weight="bold" text-anchor="start" >Duration:</text>
<text x="436.2" y="543.25" font-size="10.55" font-weight="normal" text-anchor="start" >03:07</text>
<text x="311.5" y="557.1" font-size="10.45" font-weight="bold" text-anchor="start" >RF:</text>
<text x="436.2" y="557.1" font-size="10.55" font-weight="normal" text-anchor="start" >0.0</text>
<text x="311.5" y="570.9" font-size="10.45" font-weight="bold" text-anchor="start" >VA [m]:</text>
<text x="311.5" y="584.4" font-size="10.45" font-weight="bold" text-anchor="start" >IOP [mmHg]:</text>
<text x="13.7" y="626" font-size="10.3" font-weight="normal" text-anchor="start" >Comment:</text>
<text x="580.7" y="30" font-size="15.15" font-weight="bold" text-anchor="start" >Right eye (OD) / 07/21/2023 / 15:00:45</text>
<text x="580.7" y="51.2" font-size="13.75" font-weight="normal" text-anchor="start" >Grayscale (CO)</text>
<text x="1006.2" y="61.7" font-size="12" font-weight="normal" text-anchor="start" >[%]</text>
<rect x="1006.5" y="71.5" width="14" height="13" fill="#000000" stroke="#000" stroke-width="1"/>
<text x="1034.1" y="82.60" font-size="12" xml:space="preserve" style="white-space:pre">95..100</text>
<rect x="1006.5" y="89.5" width="14" height="14" fill="#330044" stroke="#000" stroke-width="1"/>
<text x="1034.1" y="100.85" font-size="12" xml:space="preserve" style="white-space:pre">83..94</text>
<rect x="1006.5" y="107.5" width="14" height="14" fill="#960f2a" stroke="#000" stroke-width="1"/>
<text x="1034.1" y="119.10" font-size="12" xml:space="preserve" style="white-space:pre">71..82</text>
<rect x="1006.5" y="126.5" width="14" height="13" fill="#b84d37" stroke="#000" stroke-width="1"/>
<text x="1034.1" y="137.35" font-size="12" xml:space="preserve" style="white-space:pre">59..70</text>
<rect x="1006.5" y="144.5" width="14" height="14" fill="#7dff66" stroke="#000" stroke-width="1"/>
<text x="1034.1" y="155.60" font-size="12" xml:space="preserve" style="white-space:pre">47..58</text>
<rect x="1006.5" y="162.5" width="14" height="14" fill="#f2ee50" stroke="#000" stroke-width="1"/>
<text x="1034.1" y="173.85" font-size="12" xml:space="preserve" style="white-space:pre">35..46</text>
<rect x="1006.5" y="181.5" width="14" height="13" fill="#f5f48c" stroke="#000" stroke-width="1"/>
<text x="1034.1" y="192.10" font-size="12" xml:space="preserve" style="white-space:pre">23..34</text>
<rect x="1006.5" y="199.5" width="14" height="14" fill="#fcfcc8" stroke="#000" stroke-width="1"/>
<text x="1034.1" y="210.35" font-size="12" xml:space="preserve" style="white-space:pre">11..22</text>
<rect x="1006.5" y="217.5" width="14" height="14" fill="#ffffff" stroke="#000" stroke-width="1"/>
<text x="1034.1" y="228.60" font-size="12" xml:space="preserve" style="white-space:pre"> 0..10</text>
<text x="613" y="116.7" font-size="12" font-weight="normal" text-anchor="start" >7.9</text>
<text x="960.3" y="101.7" font-size="12" font-weight="normal" text-anchor="end" >MD [dB]</text>
<text x="960.3" y="116.9" font-size="12" font-weight="normal" text-anchor="end" >-0.7</text>
<text x="605.7" y="425" font-size="12" font-weight="normal" text-anchor="start" >13.0</text>
<text x="956" y="425" font-size="12" font-weight="normal" text-anchor="end" >3.9</text>
<rect x="989.5" y="375.5" width="133" height="73" fill="#fff" stroke="#000" stroke-width="1"/>
<line x1="989.5" y1="393.5" x2="1122.5" y2="393.5" stroke="#000" stroke-width="1"/>
<text x="1055.6" y="388.6" font-size="12" font-weight="bold" text-anchor="middle" >12°</text>
<text x="998.4" y="408.6" font-size="12.15" font-weight="bold" text-anchor="start" >MS [dB]:</text>
<text x="1092" y="408.6" font-size="12.15" font-weight="bold" text-anchor="start" >23.6</text>
<text x="998.4" y="423.6" font-size="12.15" font-weight="bold" text-anchor="start" >MD [&lt; 2.0 dB]:</text>
<text x="1092" y="423.6" font-size="12.15" font-weight="bold" text-anchor="start" >5.9</text>
<text x="998.4" y="438.6" font-size="12.15" font-weight="bold" text-anchor="start" >sLV [&lt; 2.5 dB]:</text>
<text x="1092" y="438.6" font-size="12.15" font-weight="bold" text-anchor="start" >7.8</text>
<text x="580.7" y="529.3" font-size="10.5" font-weight="bold" text-anchor="start" >Programs:</text>
<text x="675" y="529.3" font-size="10.55" xml:space="preserve" style="white-space:pre">M Standard / White/White / 4000 / III TOP</text>
<text x="580.7" y="543.25" font-size="10.5" font-weight="bold" text-anchor="start" >Parameters:</text>
<text x="675" y="543.25" font-size="10.55" xml:space="preserve" style="white-space:pre">31.4  / 4000 asb III 100 ms</text>
<text x="580.7" y="557.1" font-size="10.5" font-weight="bold" text-anchor="start" >Catch trials:</text>
<text x="675" y="557.1" font-size="10.55" xml:space="preserve" style="white-space:pre">0/4 (0%) +, 1/4 (25%) -</text>
<text x="580.7" y="570.9" font-size="10.5" font-weight="bold" text-anchor="start" >Refraction S/C/A:</text>
<text x="580.7" y="584.4" font-size="10.5" font-weight="bold" text-anchor="start" >Pupil [mm]:</text>
<text x="675" y="584.4" font-size="10.55" xml:space="preserve" style="white-space:pre">0.0</text>
<text x="580.7" y="598.2" font-size="10.5" font-weight="bold" text-anchor="start" >NV:</text>
<text x="675" y="598.2" font-size="10.55" xml:space="preserve" style="white-space:pre">T31 V1.0</text>
<text x="878.5" y="529.3" font-size="10.45" font-weight="bold" text-anchor="start" >Questions / repetitions:</text>
<text x="1003.2" y="529.3" font-size="10.55" font-weight="normal" text-anchor="start" >81 / 0</text>
<text x="878.5" y="543.25" font-size="10.45" font-weight="bold" text-anchor="start" >Duration:</text>
<text x="1003.2" y="543.25" font-size="10.55" font-weight="normal" text-anchor="start" >02:58</text>
<text x="878.5" y="557.1" font-size="10.45" font-weight="bold" text-anchor="start" >RF:</text>
<text x="1003.2" y="557.1" font-size="10.55" font-weight="normal" text-anchor="start" >12.5</text>
<text x="878.5" y="570.9" font-size="10.45" font-weight="bold" text-anchor="start" >VA [m]:</text>
<text x="878.5" y="584.4" font-size="10.45" font-weight="bold" text-anchor="start" >IOP [mmHg]:</text>
<text x="580.7" y="626" font-size="10.3" font-weight="normal" text-anchor="start" >Comment:</text>
<line x1="13" y1="667.5" x2="1148" y2="667.5" stroke="#000" stroke-width="1"/>
<text x="596.3" y="683" font-size="13.6" font-weight="normal" text-anchor="middle" >EyeSuite™ Static perimetry</text>
<text x="596.9" y="701.1" font-size="13.65" font-weight="normal" text-anchor="middle" >OCTOPUS 300</text>
</svg>
</body></html>
